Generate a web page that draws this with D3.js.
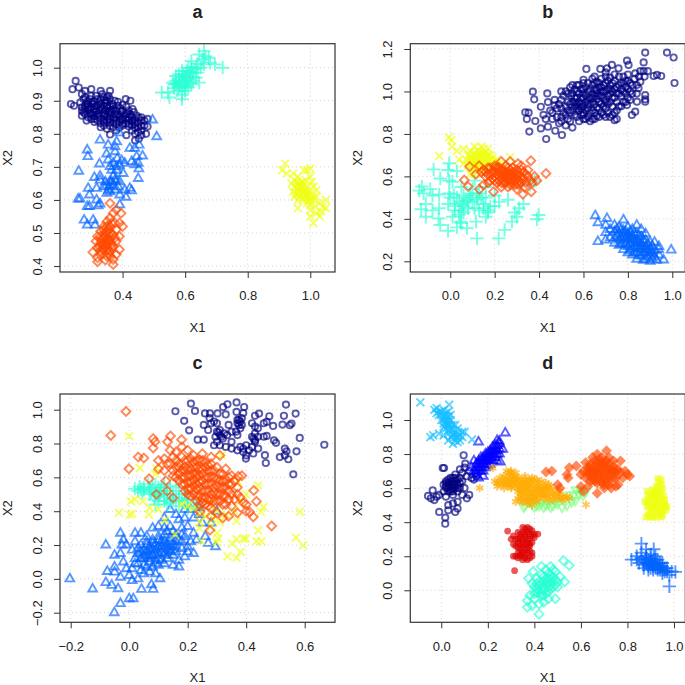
<!DOCTYPE html>
<html>
<head>
<meta charset="utf-8">
<script src="https://cdnjs.cloudflare.com/ajax/libs/d3/7.9.0/d3.min.js"></script>
<style>
  body { margin: 0; background: #fff; overflow: hidden; }
  text { font-family: "Liberation Sans", Arial, sans-serif; fill: #222; }
</style>
</head>
<body>
<div id="content"></div>
<script>
/* Values, [X1, X2] */

// panel a
const aCircle = [[.25,.96],[.24,.935],[.26,.94],[.235,.89],[.245,.885],[.27,.855],[.285,.84],[.27,.92],[.28,.93],[.3,.935],[.33,.93],[.36,.93],[.355,.915],
  [.28,.91],[.3,.915],[.32,.905],[.34,.91],[.36,.905],[.265,.895],[.287,.898],[.305,.89],[.325,.895],[.345,.893],[.367,.89],[.385,.897],[.41,.905],[.425,.9],
  [.27,.88],[.29,.883],[.31,.875],[.33,.881],[.352,.878],[.37,.884],[.392,.877],[.412,.882],[.432,.875],
  [.275,.865],[.296,.861],[.316,.868],[.335,.862],[.356,.866],[.375,.86],[.396,.867],[.415,.862],[.436,.866],
  [.29,.85],[.31,.853],[.33,.846],[.35,.851],[.372,.848],[.39,.852],[.41,.847],[.43,.851],[.452,.848],
  [.31,.836],[.33,.832],[.35,.838],[.37,.833],[.39,.836],[.41,.832],[.43,.837],[.45,.833],[.47,.84],[.48,.845],
  [.33,.82],[.36,.824],[.39,.819],[.42,.822],[.44,.818],[.46,.824],[.48,.822],[.36,.798],[.412,.796],[.44,.8],[.46,.796],[.475,.8],[.44,.78],[.452,.785]];
const aCircleCore = [[.285,.89],[.3,.88],[.32,.885],[.34,.885],[.36,.882],[.38,.87],[.29,.872],[.305,.858],[.325,.872],[.345,.87],[.365,.872],[.385,.858],[.405,.855],[.425,.858],[.3,.845],[.32,.86],[.34,.855],[.36,.858],[.38,.842],[.4,.842],[.42,.843],[.44,.842],[.32,.84],[.34,.842],[.36,.845],[.46,.84],[.34,.825],[.37,.82],[.4,.825],[.43,.826],[.45,.82],[.31,.898],[.33,.905],[.35,.9],[.28,.875],[.4,.888],[.42,.87],[.46,.81],[.43,.81],[.38,.81],[.35,.815],
  [.275,.905],[.295,.905],[.315,.915],[.335,.92],[.35,.91],[.375,.9],[.27,.87],[.28,.86],[.28,.885],[.295,.875],[.31,.865],[.315,.885],[.325,.855],[.335,.875],[.345,.86],[.35,.885],[.36,.87],[.37,.875],[.38,.855],[.385,.885],[.395,.845],[.4,.87],[.41,.86],[.42,.85],[.43,.84],[.34,.835],[.36,.835],[.38,.83],[.4,.83],[.42,.83],[.44,.83],[.445,.855],[.46,.85],[.47,.825],[.45,.805],[.3,.895],[.29,.89],[.33,.89],[.345,.9],[.31,.845],[.3,.86],[.355,.845]];
const aTriangle = [[.328,.781],[.287,.751],[.289,.731],[.26,.687],[.326,.709],[.31,.668],[.328,.672],[.258,.603],[.264,.603],[.287,.58],[.294,.58],[.317,.6],[.322,.582],
  [.29,.635],[.294,.615],[.317,.635],[.328,.66],[.349,.645],[.36,.655],[.381,.66],[.386,.64],[.407,.63],[.423,.635],[.429,.628],[.411,.608],[.391,.585],[.36,.625],
  [.354,.766],[.376,.761],[.381,.776],[.349,.739],[.376,.746],[.354,.721],[.37,.711],[.397,.719],[.407,.711],[.36,.701],[.381,.69],[.402,.68],[.391,.655],
  [.45,.665],[.452,.694],[.429,.716],[.439,.706],[.445,.731],[.464,.733],[.45,.711],[.423,.756],[.439,.756],[.453,.766],[.496,.842],[.509,.791],[.389,.803],
  [.277,.539],[.287,.524],[.306,.539],[.312,.524],[.328,.588],[.365,.69],[.375,.63],[.391,.615],[.345,.655],[.38,.7],[.372,.645],[.358,.64],[.34,.64],[.37,.672],[.39,.705],[.383,.725],[.365,.655],[.375,.66],[.355,.63],[.35,.62]];
const aPlus = [[.525,.925],[.55,.91],[.545,.925],[.59,.905],[.59,.918],[.57,.95],[.56,.955],[.58,.94],[.6,.93],[.61,.94],[.585,.96],[.6,.96],[.62,.95],[.635,.97],[.645,.955],[.57,.975],
  [.66,1.05],[.665,1.035],[.645,1.04],[.675,1.03],[.68,1.015],[.72,1],[.695,1.01],[.66,1.01],[.65,1],[.64,1.012],[.62,1.02],[.61,1],[.59,.99],[.58,.98],[.625,.985],[.605,.975],
  [.595,.945],[.575,.93],[.612,.965],[.63,.995],[.618,.972],[.602,.948],[.64,.985],[.655,1.025],[.565,.938],[.59,.972],[.57,.96],[.58,.952],[.59,.955],[.6,.97],[.61,.955],[.615,.985],[.605,.99],[.62,1],[.58,.965],[.565,.95],[.595,.98],[.625,.96],[.635,1],[.6,.94],[.585,.945]];
const aTimes = [[.92,.71],[.91,.69],[.925,.68],[.945,.68],[.96,.67],[.96,.65],[.98,.69],[.99,.69],[1,.695],[.95,.66],[.94,.65],[.95,.64],[.97,.65],[.985,.66],[1,.67],[.955,.62],[.97,.63],[.99,.64],
  [1.01,.64],[1.02,.63],[.96,.6],[.98,.61],[1,.62],[1.02,.61],[.95,.61],[.99,.59],[1.01,.6],[1.03,.59],[1.05,.6],[1.04,.58],[1.05,.575],[.96,.575],[1,.57],[1.02,.56],[1.03,.55],[1.01,.53],[1,.55],
  [.965,.64],[.975,.62],[.985,.63],[.98,.645],[.965,.61],[.995,.61],[1.005,.655],[1.015,.58],[.955,.655],[.975,.6],[.99,.625],[1.035,.565],[.945,.625],[.96,.63],[.97,.64],[.98,.625],[.99,.615],[.975,.635],[.985,.615],[.965,.62],[1,.6],[1.01,.61],[.975,.655],[.99,.6],[1,.585]];
const aDiamond = [[.36,.59],[.38,.57],[.395,.56],[.37,.56],[.36,.545],[.39,.53],[.375,.53],[.4,.52],[.35,.535],[.34,.52],[.36,.52],[.38,.51],[.33,.505],[.35,.505],[.37,.495],[.39,.49],
  [.32,.49],[.34,.485],[.36,.48],[.38,.475],[.315,.475],[.33,.47],[.35,.465],[.37,.46],[.39,.45],[.32,.455],[.34,.45],[.36,.445],[.38,.435],[.305,.442],[.33,.435],[.35,.43],[.37,.42],[.32,.425],[.32,.413],[.345,.418],[.37,.405],[.36,.43],[.345,.5],[.36,.5],[.35,.48],[.335,.46],[.365,.465],
  [.34,.51],[.355,.51],[.33,.49],[.345,.49],[.36,.49],[.33,.48],[.345,.475],[.36,.47],[.375,.485],[.335,.45],[.35,.45],[.365,.455],[.325,.46],[.34,.465],[.355,.44],[.33,.445],[.35,.52],[.365,.53],[.345,.46],[.355,.475]];

// panel b
const bCircle = [[.878,1.183],[.976,1.183],[1.006,1.16],[1.01,1.04],[.796,1.145],[.803,1.125],[.871,1.137],[.833,1.085],[.856,1.096],[.871,1.096],[.89,1.096],[.875,1.07],[.916,1.073],[.931,1.078],[.95,1.073],[.856,1.046],
  [.728,1.125],[.706,1.109],[.758,1.109],[.613,1.106],[.676,1.106],[.372,.999],[.378,.963],[.437,.991],[.338,.902],[.353,.9],[.345,.87],[.383,.861],[.356,.811],[.432,.776],[.408,.826],[.44,.834],[.473,.815],[.503,.795],[.408,.928],[.42,.89],
  [.878,.963],[.878,.952],[.841,.952],[.818,.889],[.833,.905],[.796,.936],[.878,.983],[.848,1.015],[.44,.95],[.45,.91],[.47,.935],[.43,.87],[.46,.87],[.49,.85],[.52,.84],[.55,.83],[.58,.86],[.6,.87],
  [.5,.88],[.5,.92],[.5,.96],[.5,1.0],[.53,.87],[.53,.91],[.53,.95],[.53,.99],[.54,1.02],[.56,.89],[.56,.93],[.56,.97],[.56,1.01],[.58,.91],[.58,.95],[.58,.99],[.58,1.03],[.6,.89],[.6,.93],[.6,.97],[.6,1.01],[.6,1.055],
  [.62,.88],[.62,.92],[.62,.96],[.62,1],[.62,1.04],[.64,.87],[.64,.91],[.64,.95],[.64,.99],[.64,1.03],[.64,1.06],[.66,.885],[.66,.925],[.66,.965],[.66,1.005],[.66,1.045],[.68,.9],[.68,.94],[.68,.98],[.68,1.02],[.68,1.06],
  [.7,.92],[.7,.96],[.7,1],[.7,1.04],[.7,1.07],[.72,.95],[.72,.99],[.72,1.03],[.72,1.065],[.74,.9],[.74,.97],[.74,1.01],[.74,1.05],[.76,.93],[.76,.99],[.76,1.03],[.76,1.07],[.78,.95],[.78,1],[.78,1.04],[.8,.97],[.8,1.01],[.8,1.05],[.82,.99],[.82,1.03],[.83,1.06],
  [.51,.9],[.545,.98],[.57,.94],[.59,.92],[.61,.98],[.63,.94],[.65,.98],[.67,.95],[.69,1.0],[.71,.98],[.73,.93],[.75,1.02],[.77,.98],[.79,1.02],[.81,1.0],[.7,.88],[.72,.88],[.75,.87],[.74,.865]];
const bCircleCore = [[.55,.95],[.55,.91],[.57,.97],[.57,.92],[.57,1],[.59,.94],[.59,.97],[.59,1.01],[.61,.91],[.61,.95],[.61,1.02],[.63,.9],[.63,.97],[.63,1.01],[.65,.9],[.65,.94],[.65,1.01],[.65,1.04],[.67,.92],[.67,.98],[.67,1.02],[.67,1.04],[.69,.93],[.69,.97],[.69,1.03],[.71,.94],[.71,1.01],[.71,1.05],[.73,.97],[.73,1],[.73,1.04],[.75,.95],[.75,.99],[.77,1.01],[.77,1.04],[.79,.99],[.79,1.05],[.81,1.04],[.6,.9],[.62,.94],[.64,.97],[.66,.99],[.68,1],[.7,.95],[.72,1.01],[.52,.93],[.54,.9],[.56,.95],[.58,.93],[.6,.99],
  [.46,.9],[.47,.96],[.48,.88],[.48,.92],[.49,.94],[.5,.86],[.51,.98],[.52,.89],[.52,1],[.54,.94],[.54,.86],[.55,.99],[.57,.88],[.59,.89],[.61,.87],[.63,.86],[.65,.87],[.67,.88],[.69,.89],[.71,.9],[.73,.89],[.75,.91],[.77,.93],[.79,.95],[.81,.96],[.84,.99],[.84,1.03],[.85,1.07],[.8,1.08],[.78,1.07],[.74,1.08],[.7,1.09],[.65,1.07],[.6,1.04],[.57,1.03],[.55,1.03]];
const bTriangle = [[.653,.415],[.665,.382],[.665,.293],[.706,.402],[.995,.253],[.961,.206],[.939,.256],[.7,.37],[.72,.35],[.7,.335],[.72,.31],[.7,.3],[.74,.37],[.74,.34],[.74,.31],[.74,.285],[.76,.36],[.76,.33],[.76,.3],[.76,.275],
  [.78,.395],[.78,.345],[.78,.315],[.78,.285],[.78,.255],[.8,.36],[.8,.33],[.8,.3],[.8,.27],[.8,.24],[.82,.35],[.82,.32],[.82,.29],[.82,.26],[.82,.23],[.84,.37],[.84,.33],[.84,.3],[.84,.27],[.84,.24],[.84,.21],
  [.86,.35],[.86,.315],[.86,.285],[.86,.255],[.86,.225],[.88,.33],[.88,.3],[.88,.27],[.88,.24],[.88,.21],[.9,.29],[.9,.26],[.9,.23],[.9,.2],[.92,.29],[.92,.25],[.92,.22],[.94,.27],[.94,.23],[.93,.205],[.91,.21],[.87,.205],[.81,.28],[.85,.26],
  [.75,.35],[.75,.32],[.77,.35],[.77,.31],[.77,.28],[.79,.34],[.79,.31],[.79,.28],[.81,.34],[.81,.31],[.81,.25],[.83,.33],[.83,.3],[.83,.27],[.83,.24],[.85,.32],[.85,.29],[.85,.23],[.87,.3],[.87,.27],[.87,.24],[.89,.28],[.89,.25],[.89,.22],[.91,.27],[.91,.24],[.84,.285],[.86,.27],[.82,.305],[.8,.315],[.78,.33],[.88,.255],[.9,.245]];
const bPlus = [[-.075,.633],[-.005,.662],[-.128,.552],[-.14,.533],[-.131,.445],[-.11,.41],[-.053,.402],[-.045,.371],[-.01,.344],[.12,.308],[.218,.308],[.075,.356],[.045,.387],[.116,.387],[.16,.41],[.245,.348],[.278,.387],[.398,.418],[.39,.398],
  [-.01,.63],[.03,.625],[-.045,.59],[-.005,.58],[.01,.575],[.05,.55],[-.12,.52],[-.09,.54],[-.08,.51],[-.05,.515],[-.005,.52],[.015,.515],[.06,.51],[.09,.5],[.12,.49],[.16,.5],[.2,.51],[.26,.49],[.33,.47],
  [-.11,.47],[-.08,.44],[-.05,.45],[-.01,.47],[.02,.46],[.05,.47],[.08,.45],[.13,.44],[.15,.45],[.17,.44],[.2,.46],[.29,.43],[.31,.45],[.3,.41],[.05,.38],[.01,.41],[.06,.43],[.03,.5],[.07,.485],[.16,.55],[.1,.54],[.13,.52],[.17,.43],[.22,.48],[.36,.56],[.38,.58],[.11,.58],
  [.04,.48],[.06,.46],[.08,.49],[.1,.48],[.12,.51],[.14,.5],[.15,.47],[.18,.46],[.02,.44],[.04,.42],[.03,.36],[.0,.5],[.05,.44],[.09,.52],[.11,.45]];
const bTimes = [[-.005,.784],[-.05,.696],[.008,.74],[.005,.77],[.03,.72],[.06,.73],[.04,.68],[.06,.66],[.09,.72],[.11,.74],[.14,.74],[.17,.73],[.08,.7],[.1,.7],[.12,.72],[.15,.71],[.18,.7],[.21,.68],[.07,.68],[.09,.67],[.11,.68],[.13,.7],[.16,.69],[.19,.67],[.22,.66],
  [.08,.65],[.1,.65],[.12,.66],[.14,.68],[.17,.66],[.2,.65],[.24,.65],[.27,.69],[.1,.63],[.13,.64],[.15,.65],[.18,.64],[.11,.61],[.14,.62],[.09,.61],[.12,.7],[.14,.66],[.16,.71],[.1,.67],[.12,.68],[.15,.67],
  [.09,.69],[.11,.71],[.13,.72],[.15,.73],[.1,.66],[.12,.67],[.14,.7],[.16,.67],[.18,.68],[.2,.67],[.13,.68],[.11,.66],[.17,.7],[.19,.69],[.13,.66],[.15,.69],[.1,.685],[.12,.645],[.16,.65]];
const bDiamond = [[.431,.614],[.363,.674],[.365,.528],[.327,.516],[.063,.583],[.08,.552],[.087,.646],[.131,.539],[.195,.528],[.13,.65],[.115,.61],[.14,.62],[.16,.6],[.18,.64],[.2,.65],[.23,.67],[.27,.67],[.305,.66],[.32,.65],[.35,.63],[.38,.6],[.37,.57],[.335,.55],[.3,.54],[.26,.55],[.23,.55],[.17,.57],[.15,.56],
  [.15,.63],[.17,.61],[.19,.59],[.21,.61],[.23,.63],[.25,.65],[.27,.63],[.29,.62],[.31,.61],[.33,.59],[.35,.6],[.31,.58],[.29,.58],[.27,.59],[.25,.6],[.23,.59],[.21,.57],[.19,.62],[.21,.64],[.25,.57],[.27,.56],[.29,.6],[.25,.62],[.33,.62],[.23,.61],[.27,.61],[.3,.565],[.36,.58],[.39,.58],[.17,.64],[.2,.6],[.28,.64],[.24,.59],[.22,.6],[.26,.58],
  [.16,.62],[.18,.61],[.18,.58],[.2,.58],[.2,.62],[.22,.58],[.22,.62],[.24,.57],[.24,.61],[.24,.63],[.26,.6],[.26,.62],[.26,.64],[.28,.58],[.28,.6],[.28,.62],[.3,.59],[.3,.61],[.3,.63],[.32,.57],[.32,.6],[.32,.63],[.34,.61],[.34,.57],[.2,.64],[.22,.64],[.27,.57],[.23,.57],[.29,.56],[.31,.56]];

// panel c
const cCircle = [[.211,1.036],[.158,.991],[.225,.993],[.188,.934],[.205,.878],[.234,.823],[.255,.823],[.259,.978],[.276,.978],[.302,.978],[.321,1.016],[.336,1.032],[.367,1.043],[.393,1.016],[.39,.98],[.367,.987],[.33,.972],[.536,1.03],[.569,.977],[.529,.964],[.444,.977],[.43,.964],[.479,.961],[.47,.928],[.492,.904],[.524,.912],[.555,.918],[.549,.908],[.583,.833],[.667,.793],[.572,.754],[.532,.77],[.538,.754],[.515,.72],[.532,.73],[.544,.707],[.561,.618],[.467,.685],[.464,.731],[.399,.711],[.424,.741],[.441,.77],[.47,.845],[.495,.819],[.502,.804],
  [.255,.91],[.275,.95],[.28,.92],[.27,.88],[.29,.93],[.3,.87],[.31,.85],[.295,.84],[.31,.88],[.3,.92],[.32,.83],[.335,.85],[.34,.91],[.29,.79],[.31,.79],[.33,.78],[.3,.81],[.35,.87],[.37,.94],[.38,.93],[.375,.91],[.365,.87],[.37,.85],[.385,.95],[.38,.89],[.37,.76],[.39,.75],[.4,.79],[.41,.76],[.42,.78],[.43,.82],[.42,.84],[.43,.86],[.43,.9],[.42,.92],[.44,.89],[.46,.84],[.46,.92],[.4,.73],[.35,.81],[.35,.77],[.305,.865],[.315,.84],[.325,.86],[.375,.94],[.37,.92],[.385,.91],[.43,.81],[.425,.83],[.44,.84],[.39,.77],[.38,.78]];
const cTriangle = [[-.203,0],[-.125,-.06],[-.051,-.2],[-.03,-.146],[0,-.117],[.014,-.117],[-.08,.2],[-.038,-.058],[-.06,-.038],[-.08,-.022],[-.075,.044],[.042,-.062],[.082,-.062],[.076,-.035],[.105,.001],[-.03,.27],[-.02,.23],[-.025,.2],[-.01,.2],[-.05,.14],[-.03,.15],[-.05,.07],[-.05,.04],[-.02,.1],[-.01,.06],[-.03,.01],[0,.02],[.01,-.01],[.03,0],[.05,.03],[.07,.04],[.09,.03],
  [.02,.27],[.04,.27],[.06,.25],[.02,.22],[.04,.2],[.06,.2],[.08,.23],[.1,.25],[.12,.3],[.14,.31],[.12,.26],[.14,.24],[.16,.26],[.18,.3],[.17,.23],[.19,.25],[.2,.31],[.22,.27],[.21,.22],[.22,.36],[.24,.38],[.19,.36],[.17,.35],[.16,.38],[.12,.36],[.1,.31],[.08,.3],[.27,.21],[.295,.19],[.26,.25],[.23,.23],[.25,.33],[.28,.33],[.3,.4],[.24,.42],[.21,.41],[.19,.41],[.14,.41],
  [.01,.17],[.03,.15],[.05,.17],[.07,.19],[.09,.17],[.11,.19],[.13,.2],[.15,.2],[.02,.12],[.04,.12],[.06,.13],[.08,.14],[.1,.15],[.12,.15],[.14,.16],[.16,.16],[.18,.18],[.2,.19],[.03,.09],[.05,.08],[.07,.1],[.09,.11],[.11,.11],[.13,.12],[.15,.08],[.17,.11],[.2,.16],[.01,.06],[.04,.05],[.06,.07],[.08,.07],[.1,.08],[.12,.09],[.17,.07],[.19,.13],[.22,.15],[.02,.09],[.07,.17],[.11,.22],[.09,.2],[.05,.12],
  [.06,.16],[.07,.14],[.08,.18],[.09,.14],[.1,.19],[.1,.12],[.11,.16],[.12,.18],[.12,.21],[.13,.17],[.13,.14],[.14,.19],[.15,.17],[.15,.14],[.06,.22],[.08,.21],[.1,.23],[.12,.23],[.14,.22],[.16,.22],[.04,.16],[.05,.14],[.03,.18],[.07,.12],[.09,.09],[.16,.19],[.18,.22],[.18,.26],[.15,.28],[.13,.28]];
const cPlus = [[.019,.533],[.03,.52],[.035,.545],[.05,.54],[.065,.56],[.07,.53],[.09,.555],[.1,.54],[.12,.56],[.14,.55],[.16,.54],[.045,.51],[.07,.5],[.09,.51],[.11,.52],[.13,.52],[.15,.5],[.17,.52],[.19,.5],[.085,.47],[.1,.46],[.12,.48],[.14,.47],[.16,.46],[.18,.46],[.2,.47],[.22,.45],[.09,.44],[.13,.44],[.17,.43],[.2,.42],[.05,.525],[.075,.515],[.105,.5],[.23,.43],[.04,.53],[.08,.54],[.11,.54],[.13,.5],[.15,.48],[.17,.48],[.19,.47],[.1,.49],[.12,.46],[.14,.45]];
const cTimes = [[0,.843],[.036,.656],[-.035,.391],[.002,.379],[.01,.385],[.006,.458],[.019,.47],[.046,.459],[.067,.38],[.583,.396],[.57,.244],[.595,.198],[.441,.553],[.459,.425],[.45,.396],[.441,.287],[.435,.222],[.452,.222],[.399,.238],[.39,.238],[.367,.234],[.352,.208],[.381,.159],[.367,.125],[.336,.133],[.304,.238],[.299,.218],[.247,.224],[.156,.262],[.367,.342],[.31,.336],[.242,.336],[.287,.356],[.122,.346],[.316,.731],[.093,.651],[.373,.573],[.219,.415],[.24,.39],[.26,.37],[.2,.43],[.18,.44],[.33,.38],[.36,.4],[.3,.4],[.275,.44],[.38,.46],[.4,.5],[.1,.41],[.09,.62],[.07,.42],[.3,.27],[.24,.3],[.28,.31]];
const cDiamond = [[-.011,.99],[-.063,.848],[-.001,.651],[.031,.72],[.05,.714],[.068,.592],[.093,.5],[.15,.478],[.082,.829],[.088,.81],[.082,.774],[.141,.845],[.131,.81],[.179,.823],[.487,.313],[.424,.366],[.412,.396],[.435,.458],[.426,.523],[.373,.606],[.31,.73],[.276,.287],[.242,.396],[.385,.61],
  [.1,.7],[.12,.71],[.1,.65],[.12,.64],[.125,.58],[.13,.52],[.14,.76],[.16,.75],[.18,.78],[.2,.76],[.22,.73],[.25,.74],[.28,.72],[.14,.68],[.16,.7],[.18,.72],[.2,.7],[.22,.69],[.24,.7],[.26,.69],[.28,.68],[.3,.66],[.33,.65],[.15,.64],[.17,.66],[.19,.64],[.21,.65],[.23,.66],[.25,.65],[.27,.64],[.29,.64],[.31,.62],[.34,.6],
  [.16,.6],[.18,.6],[.2,.61],[.22,.62],[.24,.61],[.26,.6],[.28,.6],[.3,.59],[.32,.58],[.35,.56],[.18,.56],[.2,.57],[.22,.58],[.24,.57],[.26,.56],[.28,.56],[.3,.55],[.32,.54],[.34,.52],[.37,.5],[.19,.52],[.21,.53],[.23,.53],[.25,.52],[.27,.52],[.29,.51],[.31,.5],[.33,.49],[.36,.47],[.39,.45],
  [.21,.49],[.23,.49],[.25,.48],[.27,.47],[.29,.46],[.31,.46],[.33,.44],[.35,.43],[.37,.39],[.4,.4],[.24,.44],[.26,.44],[.28,.42],[.3,.39],[.32,.36],[.34,.37],[.28,.37],[.19,.66],[.23,.62],[.17,.58],[.35,.61],[.37,.54],[.32,.62],
  [.13,.68],[.15,.72],[.17,.68],[.19,.7],[.21,.71],[.23,.7],[.25,.7],[.27,.67],[.16,.66],[.18,.64],[.2,.65],[.22,.66],[.24,.65],[.26,.66],[.28,.64],[.15,.61],[.17,.62],[.19,.6],[.21,.61],[.23,.6],[.25,.62],[.27,.6],[.29,.6],[.31,.58],[.33,.58],[.19,.56],[.21,.57],[.23,.56],[.25,.58],[.27,.56],[.29,.54],[.31,.54],[.33,.54],[.2,.53],[.22,.55],[.24,.54],[.26,.52],[.28,.5],[.3,.5],[.32,.49],[.34,.47],[.22,.5],[.24,.49],[.26,.48],[.28,.47],[.3,.46],[.32,.44],[.2,.5],[.23,.46],[.25,.45],[.27,.43],[.35,.5],[.38,.48],[.4,.44],[.36,.58],[.34,.56]];

// panel d
const dCircle = [[.096,.793],[.103,.744],[.006,.718],[.012,.718],[-.057,.554],[-.037,.587],[-.045,.54],[-.03,.53],[-.02,.55],[-.01,.56],[-.009,.46],[.017,.427],[.017,.391],[.03,.47],[.06,.46],[.07,.48],[.03,.5],[.05,.51],[.07,.52],[.11,.54],[.12,.56],[.09,.56],[.02,.55],[.01,.58],
  [.02,.6],[.03,.62],[.05,.6],[.03,.58],[.05,.58],[.07,.6],[.06,.62],[.08,.63],[.04,.64],[.02,.64],[.05,.56],[.07,.58],[.1,.6],[.04,.66],[.06,.66],[.08,.66],[.09,.69],[.11,.67],[.13,.66],[.12,.7],[.15,.67],[.14,.65],[.15,.69],[.08,.71],[.1,.72],[.06,.68],[.03,.6],[.05,.62],[.01,.62],
  [.02,.61],[.03,.63],[.04,.61],[.04,.59],[.06,.6],[.06,.64],[.07,.62],[.08,.6],[.05,.64],[.03,.65],[.09,.64],[.04,.58],[.02,.63],[.07,.65],[.05,.66]];
const dTriangle = [[.16,.871],[.275,.924],[.249,.875],[.264,.828],[.254,.753],[.13,.72],[.14,.7],[.15,.68],[.16,.66],[.16,.76],[.17,.72],[.18,.7],[.15,.74],[.14,.76],[.17,.78],[.19,.8],[.19,.74],[.19,.72],[.21,.74],[.21,.77],[.21,.8],[.21,.82],[.23,.78],[.23,.82],[.23,.85],[.25,.83],[.25,.8],[.25,.86],[.18,.76],[.2,.76],[.2,.79],[.22,.8],[.24,.88],[.22,.76],[.24,.76],[.17,.74],[.18,.67],
  [.15,.7],[.15,.72],[.16,.74],[.16,.72],[.17,.76],[.18,.74],[.18,.78],[.19,.76],[.2,.73],[.2,.77],[.2,.81],[.21,.79],[.22,.78],[.22,.82],[.22,.84],[.23,.8],[.24,.82],[.24,.8],[.24,.85],[.17,.7],[.16,.7],[.19,.78]];
const dPlus = [[.86,.274],[.913,.241],[.817,.18],[1.006,.108],[.98,.023],[.84,.2],[.84,.18],[.86,.22],[.88,.24],[.86,.19],[.88,.2],[.9,.21],[.92,.2],[.85,.16],[.87,.17],[.89,.18],[.91,.17],[.93,.18],[.95,.14],[.87,.13],[.89,.15],[.91,.15],[.93,.15],[.95,.12],[.97,.11],[.89,.12],[.91,.12],[.93,.12],[.95,.1],[.98,.09],[.94,.16],[.92,.13],[.96,.13],[.9,.19],
  [.88,.16],[.9,.16],[.92,.16],[.94,.14],[.93,.13],[.91,.14],[.89,.14],[.9,.13],[.92,.14],[.94,.12],[.96,.11],[.87,.15],[.88,.18],[.9,.17],[.92,.18],[.95,.16],[.97,.13],[.99,.11]];
const dTimes = [[-.09,1.104],[.034,1.09],[-.047,.9],[-.035,.91],[.132,.886],[.1,.93],[-.03,1.06],[-.02,1.07],[-.01,1.05],[.01,1.06],[.03,1.05],[-.02,1.04],[0,1.03],[.02,1.02],[.04,1.03],[0,1],[.02,.99],[.04,1],[.06,.97],[.01,.96],[.03,.97],[.05,.94],[.07,.95],[.09,.93],[-.01,.92],[.01,.91],[.03,.92],[.05,.91],[.07,.9],[.09,.9],[.03,.88],[.05,.86],[.07,.87],[.04,.9],[.06,.92],[.03,.94],[.08,.88],
  [.01,1.02],[.01,1],[.02,1.04],[.03,1],[.03,.98],[.02,.97],[.04,.97],[.04,.95],[.05,.97],[.05,.92],[.06,.9],[.07,.92],[.06,.88],[.08,.91],[-.01,1.03],[.02,.95],[0,1.05],[.03,1.02],[.01,.98]];
const dDiamond = [[.43,.14],[.525,.175],[.55,.145],[.395,.11],[.375,.07],[.37,-.06],[.42,-.14],[.37,-.1],[.39,-.09],[.4,-.05],[.42,-.08],[.44,-.07],[.38,-.03],[.4,.02],[.42,.05],[.41,-.01],[.43,.01],[.45,.03],[.47,.05],[.49,.06],[.43,.09],[.45,.07],[.47,.09],[.49,.11],[.47,.14],[.51,.08],[.53,.05],[.44,-.03],[.46,-.01],[.48,.02],[.5,.02],[.46,-.05],[.49,-.05],[.41,.04],[.45,.12],[.43,-.03],[.46,.04],[.42,.02],
  [.42,.03],[.43,.04],[.44,.02],[.44,.05],[.45,.01],[.45,.05],[.46,.07],[.46,.02],[.47,.03],[.47,.01],[.48,.05],[.48,.08],[.49,.03],[.41,.01],[.42,-.01],[.43,-.02],[.44,0],[.45,-.02],[.4,-.02],[.47,.07],[.5,.05],[.44,.08],[.46,.1],[.48,.12],[.41,.07],[.39,.04]];
const dDownTriangle = [[.354,.489],[.576,.528],[.519,.489],[.4,.49],[.42,.5],[.44,.49],[.46,.51],[.5,.51],[.38,.52],[.56,.52],[.59,.57],[.62,.58],[.6,.585],[.54,.5],[.48,.5],[.36,.5],[.41,.5],[.43,.51],[.45,.5],[.47,.49],[.49,.52],[.55,.56],[.57,.56],[.58,.59],[.61,.56],[.39,.51]];
const dSquare = [[.931,.656],[.935,.635],[.945,.62],[.925,.61],[.905,.59],[.885,.58],[.92,.58],[.945,.585],[.89,.56],[.9,.55],[.92,.55],[.94,.56],[.955,.555],[.885,.53],[.9,.52],[.92,.52],[.94,.53],[.96,.53],[.89,.5],[.91,.49],[.93,.5],[.95,.5],[.97,.49],[.965,.47],[.88,.43],[.895,.46],[.91,.45],[.93,.47],[.95,.46],[.925,.43],[.945,.43],[.9,.43],
  [.945,.65],[.95,.6],[.93,.6],[.91,.57],[.93,.57],[.905,.54],[.925,.54],[.945,.54],[.96,.51],[.905,.505],[.92,.5],[.94,.51],[.955,.48],[.94,.48],[.92,.47],[.905,.475],[.89,.44],[.91,.43],[.935,.45],[.96,.5],[.875,.52],[.885,.49],[.925,.56],[.91,.53],[.95,.44]];
const dAsterisk = [[.221,.718],[.165,.601],[.622,.503],[.29,.69],[.28,.66],[.3,.67],[.32,.67],[.26,.65],[.24,.63],[.26,.62],[.28,.64],[.3,.64],[.32,.64],[.34,.65],[.36,.65],[.38,.65],[.4,.63],[.3,.61],[.32,.61],[.34,.62],[.36,.62],[.38,.62],[.4,.61],[.42,.61],[.44,.59],[.46,.6],[.34,.59],[.36,.59],[.38,.58],[.4,.58],[.42,.58],[.44,.56],[.48,.57],[.5,.56],[.52,.55],[.34,.55],[.36,.56],[.38,.55],[.4,.55],[.35,.52],[.32,.52],[.36,.53],[.38,.52],[.4,.53],[.46,.55],[.48,.53],[.5,.54],[.52,.53],[.54,.55],[.55,.54],[.46,.62],[.27,.67],[.31,.65],
  [.29,.65],[.31,.63],[.33,.63],[.35,.64],[.37,.63],[.39,.6],[.41,.6],[.33,.6],[.35,.6],[.37,.6],[.39,.57],[.41,.57],[.43,.56],[.35,.57],[.37,.57],[.45,.58],[.47,.59],[.27,.63],[.29,.62],[.31,.66],[.25,.63],[.33,.66],[.37,.54],[.39,.54],[.41,.55],[.34,.53],[.49,.55],[.51,.55],[.53,.54],[.47,.56],[.45,.56],[.43,.6],[.28,.62],[.3,.69],[.34,.57],
  [.28,.7],[.3,.7],[.32,.69],[.25,.66],[.23,.64],[.24,.61],[.27,.6],[.3,.6],[.33,.58],[.36,.67],[.39,.66],[.41,.65],[.43,.64],[.45,.63],[.44,.61],[.42,.63],[.4,.65],[.38,.64],[.37,.61],[.35,.62],[.43,.58],[.41,.52],[.39,.5],[.37,.51],[.33,.54],[.45,.6],[.47,.61],[.49,.58],[.51,.58],[.46,.53],[.44,.54],[.42,.54]];
const dFillDiamond = [[.45,.695],[.475,.7],[.5,.62],[.51,.6],[.545,.66],[.54,.68],[.55,.72],[.58,.73],[.6,.68],[.61,.58],[.6,.61],[.63,.61],[.65,.78],[.67,.8],[.71,.82],[.68,.77],[.72,.78],[.62,.75],[.64,.74],[.66,.73],[.68,.74],[.7,.75],[.72,.74],[.74,.73],[.63,.7],[.65,.7],[.67,.7],[.69,.71],[.71,.71],[.73,.7],[.75,.69],[.77,.76],[.66,.66],[.68,.67],[.7,.67],[.72,.66],[.74,.66],[.64,.64],[.67,.63],[.7,.62],[.73,.6],[.75,.61],[.67,.57],[.78,.66],[.8,.68],[.81,.67],[.79,.7],[.62,.66],
  [.64,.72],[.66,.7],[.68,.72],[.7,.73],[.72,.72],[.65,.68],[.67,.68],[.69,.69],[.71,.69],[.73,.68],[.66,.64],[.68,.65],[.7,.65],[.72,.64],[.64,.68],[.69,.75],[.67,.75],[.71,.76],[.74,.7],[.75,.71],[.63,.68],[.69,.63],[.7,.6],[.76,.71],[.74,.76],[.75,.66],[.77,.69],[.65,.65],[.63,.72],[.66,.76],[.69,.78],[.61,.7],[.72,.62],[.76,.62]];
const dFillCircle = [[.285,.348],[.315,.115],[.35,.37],[.37,.37],[.39,.35],[.415,.33],[.31,.32],[.33,.34],[.35,.34],[.37,.34],[.39,.32],[.3,.3],[.32,.3],[.34,.31],[.36,.31],[.38,.3],[.4,.33],[.31,.27],[.33,.28],[.35,.28],[.37,.28],[.39,.28],[.33,.25],[.35,.25],[.37,.25],[.38,.26],[.33,.22],[.35,.22],[.37,.22],[.39,.22],[.31,.2],[.33,.19],[.35,.18],[.37,.18],[.39,.2],
  [.34,.33],[.36,.33],[.38,.33],[.33,.3],[.35,.3],[.37,.3],[.34,.27],[.36,.27],[.38,.27],[.34,.24],[.36,.24],[.36,.21],[.34,.21],[.38,.23],[.32,.26],[.36,.36],[.38,.36],[.4,.31],[.32,.2],[.36,.19],[.34,.2],[.38,.19]];

const TICKS_01 = [0, 0.2, 0.4, 0.6, 0.8, 1];

const NAVY = "#00007f", BLUE = "#0062ff", CYAN = "#2bffd4", YELLOW = "#eeff11", ORANGE = "#ff4a00";

// symbol, colour, points in drawing order
const panels = [
  {title: "a", left: 60, top: 43.7, bottom: 272,
   xDomain: [.2, 1.079], yDomain: [.382, 1.0726], xTicks: [.4, .6, .8, 1], yTicks: [.4, .5, .6, .7, .8, .9, 1],
   groups: [["circle", NAVY, aCircle.concat(aCircleCore)], ["triangle", BLUE, aTriangle], ["plus", CYAN, aPlus], ["times", YELLOW, aTimes], ["diamond", ORANGE, aDiamond]]},
  {title: "b", left: 410.3, top: 43.7, bottom: 272,
   xDomain: [-.18, 1.0586], yDomain: [.1496, 1.225], xTicks: TICKS_01, yTicks: [.2, .4, .6, .8, 1, 1.2],
   groups: [["circle", NAVY, bCircle.concat(bCircleCore)], ["triangle", BLUE, bTriangle], ["plus", CYAN, bPlus], ["times", YELLOW, bTimes], ["diamond", ORANGE, bDiamond]]},
  {title: "c", left: 60, top: 394, bottom: 622.3,
   xDomain: [-.2366, .7036], yDomain: [-.2567, 1.0928], xTicks: [-.2, 0, .2, .4, .6], yTicks: [-.2, 0, .2, .4, .6, .8, 1],
   groups: [["circle", NAVY, cCircle], ["triangle", BLUE, cTriangle], ["plus", CYAN, cPlus], ["times", YELLOW, cTimes], ["diamond", ORANGE, cDiamond]]},
  {title: "d", left: 410.3, top: 394, bottom: 622.3,
   xDomain: [-.1332, 1.0486], yDomain: [-.188, 1.1527], xTicks: TICKS_01, yTicks: TICKS_01,
   groups: [["circle", "#00007f", dCircle], ["triangle", "#0000ff", dTriangle], ["plus", "#0062ff", dPlus], ["times", "#14bdff", dTimes],
            ["diamond", "#2bffd4", dDiamond], ["down", "#7dff7d", dDownTriangle], ["square", "#eeff11", dSquare], ["asterisk", "#ffaa00", dAsterisk],
            ["filldiamond", "#ff4a00", dFillDiamond], ["fillcircle", "#dd0000", dFillCircle]]}
];

const PANEL_WIDTH = 275;

const symbols = {
  circle: d3.symbol(d3.symbolCircle, 31),
  triangle: d3.symbol(d3.symbolTriangle2, 55),
  down: d3.symbol(d3.symbolTriangle2, 55),
  plus: d3.symbol(d3.symbolPlus, 60),
  times: d3.symbol(d3.symbolTimes, 42),
  diamond: d3.symbol(d3.symbolDiamond2, 50),
  square: d3.symbol(d3.symbolSquare, 46),
  asterisk: d3.symbol(d3.symbolAsterisk, 50),
  filldiamond: d3.symbol(d3.symbolDiamond2, 75),
  fillcircle: d3.symbol(d3.symbolCircle, 36)
};
const FILLED = ["square", "filldiamond", "fillcircle"];

const svg = d3.select("#content").append("svg").attr("width", 685).attr("height", 685);

panels.forEach((p) => {
  const x = d3.scaleLinear().domain(p.xDomain).range([p.left, p.left + PANEL_WIDTH]);
  const y = d3.scaleLinear().domain(p.yDomain).range([p.bottom, p.top]);
  const g = svg.append("g");
  const midX = p.left + PANEL_WIDTH / 2;
  const midY = (p.top + p.bottom) / 2;

  // dotted grid
  g.selectAll(".gx").data(p.xTicks).enter().append("line")
    .attr("x1", (d) => x(d)).attr("x2", (d) => x(d)).attr("y1", p.top).attr("y2", p.bottom)
    .attr("stroke", "#d3d3d3").attr("stroke-dasharray", "1 3");
  g.selectAll(".gy").data(p.yTicks).enter().append("line")
    .attr("y1", (d) => y(d)).attr("y2", (d) => y(d)).attr("x1", p.left).attr("x2", p.left + PANEL_WIDTH)
    .attr("stroke", "#d3d3d3").attr("stroke-dasharray", "1 3");

  // points
  p.groups.forEach(([name, color, pts]) => {
    const filled = FILLED.includes(name);
    g.append("g").selectAll("path").data(pts).enter().append("path")
      .attr("d", symbols[name])
      .attr("transform", (d) => "translate(" + x(d[0]) + "," + y(d[1]) + ")" + (name === "down" ? " rotate(180)" : ""))
      .attr("fill", filled ? color : "none")
      .attr("fill-opacity", filled ? 0.65 : null)
      .attr("stroke", filled ? "none" : color)
      .attr("stroke-opacity", 0.65)
      .attr("stroke-width", 1.9);
  });

  // axes
  const xAxis = g.append("g").attr("transform", "translate(0," + p.bottom + ")")
    .call(d3.axisBottom(x).tickValues(p.xTicks).tickSize(6).tickPadding(13).tickFormat(d3.format(".1f")));
  const yAxis = g.append("g").attr("transform", "translate(" + p.left + ",0)")
    .call(d3.axisLeft(y).tickValues(p.yTicks).tickSize(6).tickFormat(d3.format(".1f")));
  [xAxis, yAxis].forEach((a) => {
    a.select(".domain").remove();
    a.selectAll("line").attr("stroke", "#333");
    a.selectAll("text").style("font-size", "13px").style("font-family", "Liberation Sans").attr("fill", "#222");
  });
  yAxis.selectAll("text")
    .attr("transform", "rotate(-90)").attr("x", 0).attr("y", -18.5).attr("dy", 0)
    .attr("text-anchor", "middle");

  g.append("rect").attr("x", p.left).attr("y", p.top).attr("width", PANEL_WIDTH).attr("height", p.bottom - p.top)
    .attr("fill", "none").attr("stroke", "#333").attr("stroke-width", 1.2);

  g.append("text").attr("x", midX).attr("y", p.top - 25.5).attr("text-anchor", "middle")
    .style("font-size", "18px").style("font-weight", "bold").attr("fill", "#000").text(p.title);
  g.append("text").attr("x", midX).attr("y", p.bottom + 59.5).attr("text-anchor", "middle")
    .style("font-size", "13px").text("X1");
  g.append("text").attr("transform", "translate(" + (p.left - 48.5) + "," + midY + ") rotate(-90)").attr("text-anchor", "middle")
    .style("font-size", "13px").text("X2");
});
</script>
</body>
</html>
